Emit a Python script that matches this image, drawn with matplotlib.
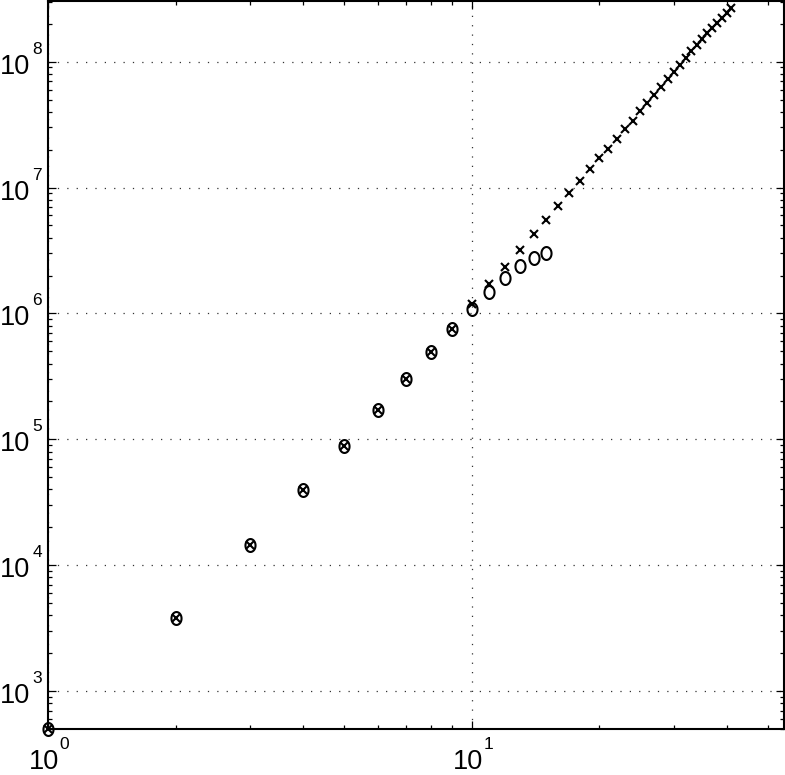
import numpy as np
import matplotlib
matplotlib.use("Agg")
import matplotlib.pyplot as plt
from matplotlib.path import Path
from matplotlib.ticker import LogLocator, NullFormatter
from matplotlib.transforms import offset_copy, blended_transform_factory

# ---- data ----
circle_x = list(range(1, 16))
circle_y = [500, 3780, 14400, 39400, 88500, 170000, 299000, 490000, 750000,
            1.09e6, 1.48e6, 1.92e6, 2.40e6, 2.77e6, 3.01e6]

cross_x = list(range(1, 42))
cross_y = [500, 3780, 14400, 39400, 88500, 170000, 299000, 490000, 750000,
           1.18e6, 1.72e6, 2.33e6, 3.21e6, 4.30e6, 5.55e6, 7.16e6, 9.0e6,
           1.12e7, 1.40e7, 1.70e7, 2.04e7, 2.45e7, 2.90e7, 3.40e7, 4.04e7,
           4.73e7, 5.47e7, 6.34e7, 7.30e7, 8.28e7, 9.40e7, 1.07e8, 1.21e8,
           1.36e8, 1.51e8, 1.68e8, 1.85e8, 2.04e8, 2.22e8, 2.42e8, 2.68e8]

x_label_exps = [0, 1]
y_label_exps = [3, 4, 5, 6, 7, 8]

xlim = (1, 54.6)
ylim = (500, 3.03e8)

# ---- figure ----
W, H = 785, 775
fig = plt.figure(figsize=(W / 100, H / 100), dpi=100)
ax = fig.add_axes([48 / W, 46 / H, 736 / W, 728 / H])
ax.set_xscale('log')
ax.set_yscale('log')
ax.set_xlim(*xlim)
ax.set_ylim(*ylim)

# elliptical open circle marker
t = np.linspace(0, 2 * np.pi, 73)
ell = Path(np.column_stack([0.78 * np.cos(t), np.sin(t)]), closed=True)

ax.plot(circle_x, circle_y, linestyle='none', marker=ell, markersize=9.3,
        markerfacecolor='none', markeredgecolor='black', markeredgewidth=1.5,
        clip_on=False, zorder=3)
ax.plot(cross_x, cross_y, linestyle='none', marker='x', markersize=6.3,
        markeredgecolor='black', markeredgewidth=1.5, clip_on=False, zorder=3)

# ticks
ax.xaxis.set_major_locator(LogLocator(base=10, numticks=10))
ax.xaxis.set_minor_locator(LogLocator(base=10, subs=np.arange(2, 10), numticks=10))
ax.yaxis.set_major_locator(LogLocator(base=10, numticks=20))
ax.yaxis.set_minor_locator(LogLocator(base=10, subs=np.arange(2, 10), numticks=20))
for a in (ax.xaxis, ax.yaxis):
    a.set_major_formatter(NullFormatter())
    a.set_minor_formatter(NullFormatter())
ax.tick_params(which='both', direction='in', top=True, right=True, color='black')
ax.tick_params(which='major', length=5.8, width=0.9)
ax.tick_params(which='minor', length=2.9, width=0.9)

for s in ax.spines.values():
    s.set_linewidth(1.5)
    s.set_color('black')

ax.grid(True, which='major', linestyle=(0, (1, 6.5)), color='0.2', linewidth=0.9)
ax.set_axisbelow(True)

font = dict(family=['Liberation Sans', 'DejaVu Sans'], color='black')
big, small = 19.5, 12.5

bx = blended_transform_factory(ax.transData, ax.transAxes)
for e in x_label_exps:
    ax.text(10 ** e, 0, '10', transform=offset_copy(bx, x=-4, y=-40, units='dots'),
            ha='center', va='baseline', fontsize=big, clip_on=False, **font)
    ax.text(10 ** e, 0, str(e), transform=offset_copy(bx, x=11.5, y=-20, units='dots'),
            ha='left', va='baseline', fontsize=small, clip_on=False, **font)

by = blended_transform_factory(ax.transAxes, ax.transData)
for e in y_label_exps:
    ax.text(0, 10 ** e, '10', transform=offset_copy(by, x=-18, y=-12, units='dots'),
            ha='right', va='baseline', fontsize=big, clip_on=False, **font)
    ax.text(0, 10 ** e, str(e), transform=offset_copy(by, x=-6, y=8, units='dots'),
            ha='right', va='baseline', fontsize=small, clip_on=False, **font)

fig.savefig('out.png', dpi=100)
